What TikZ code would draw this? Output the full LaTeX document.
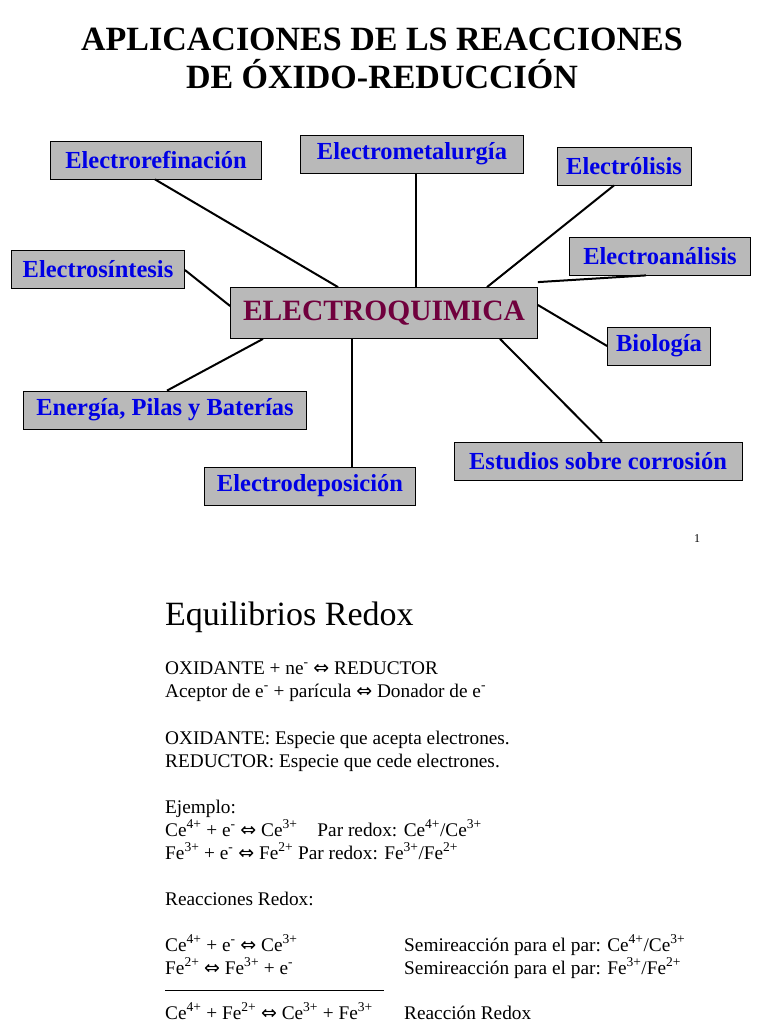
\documentclass[tikz,border=0pt]{standalone}
\usepackage{fontspec}
\setmainfont{Liberation Serif}
\newfontfamily\symf{DejaVu Sans}
\newcommand{\eqv}{{\symf\fontsize{19}{19}\selectfont ⇔}}
\newcommand{\sps}[1]{\textsuperscript{#1}}
\begin{document}
\begin{tikzpicture}[x=1pt,y=-1pt,
  bx/.style={draw=black,line width=0.8pt,fill=gray!50!white!90!gray,inner sep=0pt,font=\fontsize{24.5}{24.5}\selectfont\bfseries,text=blue!90!black},
  ln/.style={line width=2pt},
  tx/.style={anchor=base west,inner sep=0pt,font=\fontsize{19.3}{19.3}\selectfont}]
\useasboundingbox (0,0) rectangle (768,1024);
\node[align=center,font=\fontsize{34}{38}\selectfont\bfseries] (title) at (382,58) {APLICACIONES DE LS REACCIONES\\DE ÓXIDO-REDUCCIÓN};
\node[bx,minimum width=211,minimum height=38] (a) at (156,160) {Electrorefinación};
\node[bx,minimum width=223,minimum height=38] (b) at (412,154) {Electrometalurgía};
\node[bx,minimum width=134,minimum height=38] (c) at (624,166) {Electrólisis};
\node[bx,minimum width=173,minimum height=38] (d) at (98,269) {Electrosíntesis};
\node[bx,minimum width=181,minimum height=38] (e) at (660,256) {Electroanálisis};
\node[bx,minimum width=307,minimum height=51,text=black!40!violet!80!red,font=\fontsize{29.5}{29.5}\selectfont\bfseries] (ec) at (384,313) {ELECTROQUIMICA};
\node[bx,minimum width=103,minimum height=38] (f) at (659,346) {Biología};
\node[bx,minimum width=283,minimum height=38] (g) at (165,410) {Energía, Pilas y Baterías};
\node[bx,minimum width=288,minimum height=38] (h) at (598,461) {Estudios sobre corrosión};
\node[bx,minimum width=211,minimum height=38] (i) at (310,486) {Electrodeposición};
\draw[ln] ([xshift=-1]a.south) -- ([xshift=-46]ec.north);
\draw[ln] ([xshift=4]b.south) -- ([xshift=32]ec.north);
\draw[ln] ([xshift=-10]c.south) -- ([xshift=103]ec.north);
\draw[ln] ([yshift=-1]d.east) -- ([yshift=7]ec.west);
\draw[ln] ([xshift=-14]e.south) -- ([yshift=5]ec.north east);
\draw[ln] ([yshift=8]ec.east) -- (f.west);
\draw[ln] ([xshift=-121]ec.south) -- ([xshift=2]g.north);
\draw[ln] ([xshift=-32]ec.south) -- ([xshift=42]i.north);
\draw[ln] ([xshift=116]ec.south) -- ([xshift=4]h.north);
\node[tx,font=\fontsize{12}{12}\selectfont] (pg) at (694,542) {1};
\node[tx,font=\fontsize{34}{34}\selectfont] (t2) at (165,625) {Equilibrios Redox};
\node[tx] (l1) at (165,674) {OXIDANTE + ne\sps{-} \eqv\ REDUCTOR};
\node[tx] (l2) at (165,697) {Aceptor de e\sps{-} + parícula \eqv\ Donador de e\sps{-}};
\node[tx] (l3) at (165,744) {OXIDANTE: Especie que acepta electrones.};
\node[tx] (l4) at (165,767) {REDUCTOR: Especie que cede electrones.};
\node[tx] (l5) at (165,813) {Ejemplo:};
\node[tx] (l6) at (165,836) {Ce\sps{4+} + e\sps{-} \eqv\ Ce\sps{3+}\hspace{20pt}Par redox: Ce\sps{4+}/Ce\sps{3+}};
\node[tx] (l7) at (165,859) {Fe\sps{3+} + e\sps{-} \eqv\ Fe\sps{2+} Par redox: Fe\sps{3+}/Fe\sps{2+}};
\node[tx] (l8) at (165,905) {Reacciones Redox:};
\node[tx] (l9) at (165,951) {Ce\sps{4+} + e\sps{-} \eqv\ Ce\sps{3+}};
\node[tx] (r9) at (404,951) {Semireacción para el par: Ce\sps{4+}/Ce\sps{3+}};
\node[tx] (l10) at (165,974) {Fe\sps{2+} \eqv\ Fe\sps{3+} + e\sps{-}};
\node[tx] (r10) at (404,974) {Semireacción para el par: Fe\sps{3+}/Fe\sps{2+}};
\coordinate (r1) at (165,990); \coordinate (r2) at (384,990);
\draw[line width=0.8pt] (r1) -- (r2);
\node[tx] (l11) at (165,1019) {Ce\sps{4+} + Fe\sps{2+} \eqv\ Ce\sps{3+} + Fe\sps{3+}};
\node[tx] (r11) at (404,1019) {Reacción Redox};
\end{tikzpicture}
\end{document}
